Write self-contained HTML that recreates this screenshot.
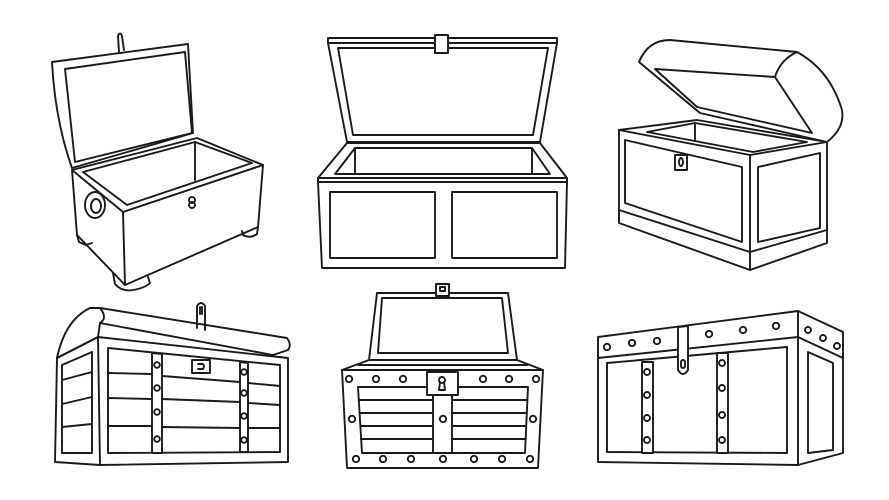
<!DOCTYPE html>
<html><head><meta charset="utf-8"><style>html,body{margin:0;padding:0;background:#fff}svg{display:block}</style></head><body>
<svg width="889" height="500" viewBox="0 0 889 500" xmlns="http://www.w3.org/2000/svg" fill="none" stroke="#1a1a1a" stroke-width="1.9" stroke-linejoin="round" stroke-linecap="round">
<!-- Chest 1 -->
<g>
<path d="M119,52 L118,36 Q120,31 122,36 L124,50" />
<path d="M52,62 L188,44 L193,133 L72,168 Q55,120 52,62 Z" fill="#fff"/>
<path d="M65,69 L185,52 L192,133 L75,162 Z"/>
<path d="M72,170 L197,138 L263,165 L123,212 Z" fill="#fff"/>
<path d="M83,172 L195,142 L252,163 L127,205 Z"/>
<path d="M195,142 L195,180"/>
<path d="M72,170 L77,235 L125,285 L123,212"/>
<path d="M263,165 L258,227 L125,285"/>
<path d="M77,235 L79,242 L86,245 L92,243"/>
<path d="M113,273 L115,284 Q122,292 133,290 Q145,288 150,283 L148,277"/>
<path d="M242,231 L243,235 Q250,239 257,234 L258,227"/>
<ellipse cx="95" cy="205" rx="10" ry="13"/>
<ellipse cx="96" cy="206" rx="5" ry="7"/>
<circle cx="192" cy="200" r="3"/><circle cx="192" cy="205" r="3"/>
</g>
<!-- Chest 2 -->
<g>
<path d="M328,38 L557,38 L557,43 L540,142 L347,142 L328,43 Z"/>
<path d="M328,43 L557,43"/>
<path d="M338,48 L548,48 L533,135 L353,135 Z"/>
<rect x="435" y="35" width="13" height="18" fill="#fff"/>
<path d="M347,143 L540,143 L567,178 L318,178 Z"/>
<path d="M355,148 L532,148 L550,174 L335,174 Z"/>
<path d="M355,148 L355,173 M532,148 L532,173"/>
<path d="M318,178 L567,178 L567,182 L565,268 L322,268 L318,182 Z"/>
<path d="M318,182 L567,182"/>
<rect x="330" y="192" width="105" height="66"/>
<rect x="452" y="192" width="105" height="66"/>
</g>
<!-- Chest 3 -->
<g>
<path d="M639,62 Q648,40 670,40 L797,52 Q830,70 842,110 Q845,128 827,142 L700,113 Z" fill="#fff"/>
<path d="M655,69 L775,77 L812,133 L697,107 Z"/>
<path d="M775,77 Q780,60 797,52"/>
<path d="M619,130 L697,120 L827,142 L750,155 Z" fill="#fff"/>
<path d="M647,132 L695,123 L807,142 L753,152 Z"/>
<path d="M695,123 L695,141"/>
<path d="M619,130 L619,223 L750,270 L827,243 L827,142"/>
<path d="M750,155 L750,270"/>
<path d="M619,210 L750,252 L827,230"/>
<path d="M625,140 L742,167 L742,242 L625,203 Z"/>
<path d="M758,167 L820,153 L820,228 L758,242 Z"/>
<rect x="675" y="155" width="12" height="15"/>
<ellipse cx="681" cy="162" rx="2" ry="4"/>
</g>
<!-- Chest 4 -->
<g>
<path d="M57,358 Q65,320 90,308 L100,308 L287,338 Q292,345 288,350 L273,355"/>
<path d="M100,308 Q108,318 100,323 L273,355"/>
<path d="M57,358 L98,337 M100,323 L98,337"/>
<path d="M197,328 L197,306 Q201,300 205,306 L205,330"/>
<path d="M200,307 L200,314 M202,307 L202,314"/>
<path d="M98,337 L288,358 L288,462 L100,465 L55,462 L57,358 Z"/>
<path d="M98,337 L100,465"/>
<path d="M62,365 L92,352 L92,453 L62,453 Z"/>
<path d="M62,380 L92,372 M62,404 L92,397 M62,427 L92,424"/>
<path d="M108,348 L280,365 L280,452 L108,453 Z"/>
<path d="M108,373 L152,374 M162,376 L240,382 M248,383 L280,386"/>
<path d="M108,398 L152,399 M162,399 L240,402 M248,403 L280,405"/>
<path d="M108,426 L152,426 M162,427 L240,428 M248,428 L280,428"/>
<path d="M152,353 L162,354 L162,453 L152,453 Z" fill="#fff"/>
<path d="M240,362 L248,363 L248,452 L240,452 Z" fill="#fff"/>
<circle cx="157" cy="365" r="2.8"/><circle cx="157" cy="388" r="2.8"/><circle cx="157" cy="412" r="2.8"/><circle cx="157" cy="439" r="2.8"/>
<circle cx="244" cy="372" r="2.8"/><circle cx="244" cy="393" r="2.8"/><circle cx="244" cy="416" r="2.8"/><circle cx="244" cy="440" r="2.8"/>
<rect x="192" y="360" width="18" height="13"/>
<path d="M198,364 L203,364 Q205,366 203,369 L198,369"/>
</g>
<!-- Chest 5 -->
<g>
<path d="M377,293 L508,293 L517,360 L369,360 Z"/>
<path d="M382,298 L502,298 L508,353 L378,353 Z"/>
<rect x="436" y="284" width="13" height="12" fill="#fff"/>
<rect x="440" y="287" width="5" height="4"/>
<path d="M369,360 L517,360 L543,370 L342,370 Z"/>
<path d="M358,365 L527,365"/>
<path d="M342,370 L543,370 L538,468 L347,468 Z"/>
<path d="M358,387 L528,387 L525,453 L362,453 Z"/>
<path d="M359,400 L527,400 M360,413 L527,413 M361,426 L526,426 M361,439 L526,439"/>
<rect x="433" y="395" width="19" height="58" fill="#fff"/>
<rect x="427" y="372" width="31" height="23" fill="#fff"/>
<circle cx="442" cy="380" r="3"/><path d="M440,382 L439,390 L445,390 L444,382"/>
<g>
<circle cx="349" cy="379" r="3.2"/><circle cx="376" cy="379" r="3.2"/><circle cx="403" cy="379" r="3.2"/><circle cx="483" cy="379" r="3.2"/><circle cx="509" cy="379" r="3.2"/><circle cx="536" cy="379" r="3.2"/>
<circle cx="352" cy="419" r="3.2"/><circle cx="443" cy="419" r="3.2"/><circle cx="533" cy="419" r="3.2"/>
<circle cx="356" cy="459" r="3.2"/><circle cx="383" cy="459" r="3.2"/><circle cx="411" cy="459" r="3.2"/><circle cx="443" cy="459" r="3.2"/><circle cx="474" cy="459" r="3.2"/><circle cx="502" cy="459" r="3.2"/><circle cx="530" cy="459" r="3.2"/>
</g>
</g>
<!-- Chest 6 -->
<g>
<path d="M598,337 L798,311 L843,332 L843,453 L798,465 L598,462 Z"/>
<path d="M798,311 L798,465"/>
<path d="M598,358 L798,337 L843,358"/>
<path d="M607,363 L787,347 L787,453 L607,452 Z"/>
<path d="M808,352 L833,363 L833,450 L808,453 Z"/>
<rect x="642" y="362" width="11" height="91" fill="#fff"/>
<rect x="717" y="353" width="11" height="100" fill="#fff"/>
<circle cx="647" cy="372" r="3"/><circle cx="647" cy="395" r="3"/><circle cx="647" cy="418" r="3"/><circle cx="647" cy="440" r="3"/>
<circle cx="722" cy="363" r="3"/><circle cx="722" cy="388" r="3"/><circle cx="722" cy="415" r="3"/><circle cx="722" cy="440" r="3"/>
<circle cx="607" cy="347" r="3.2"/><circle cx="632" cy="343" r="3.2"/><circle cx="657" cy="341" r="3.2"/><circle cx="709" cy="334" r="3.2"/><circle cx="743" cy="330" r="3.2"/><circle cx="776" cy="326" r="3.2"/>
<circle cx="808" cy="330" r="3"/><circle cx="823" cy="338" r="3"/><circle cx="837" cy="346" r="3"/>
<path d="M678,327 L688,326 L688,370 Q683,378 678,370 Z" fill="#fff"/>
<rect x="681" y="360" width="4" height="8" rx="2"/>
</g>
</svg>
</body></html>
